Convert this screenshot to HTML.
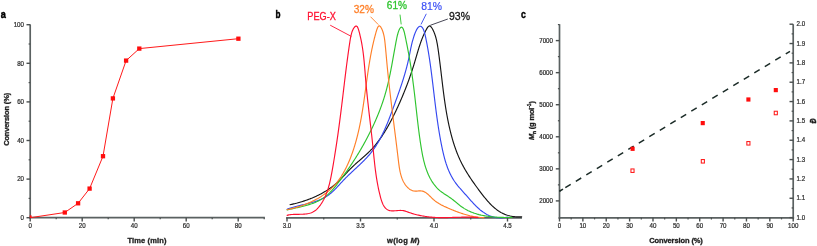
<!DOCTYPE html>
<html><head><meta charset="utf-8"><style>
html,body{margin:0;padding:0;background:#fff;}
body{width:817px;height:246px;overflow:hidden;}
svg{display:block;font-family:"Liberation Sans", Arial, sans-serif;}
</style></head><body>
<svg width="817" height="246" viewBox="0 0 817 246">
<rect width="817" height="246" fill="#fff"/>
<line x1="30.20" y1="24.40" x2="30.20" y2="218.60" stroke="#5a6161" stroke-width="1.7" />
<line x1="29.30" y1="217.70" x2="264.90" y2="217.70" stroke="#5a6161" stroke-width="1.7" />
<line x1="26.50" y1="217.70" x2="30.20" y2="217.70" stroke="#4a4f4f" stroke-width="1.4" />
<text x="24.00" y="219.90" font-size="7.1" text-anchor="end" fill="#2e2e2e" font-weight="normal" textLength="3.43" lengthAdjust="spacingAndGlyphs" stroke="#2e2e2e" stroke-width="0.24">0</text>
<line x1="26.50" y1="179.10" x2="30.20" y2="179.10" stroke="#4a4f4f" stroke-width="1.4" />
<text x="24.00" y="181.30" font-size="7.1" text-anchor="end" fill="#2e2e2e" font-weight="normal" textLength="6.87" lengthAdjust="spacingAndGlyphs" stroke="#2e2e2e" stroke-width="0.24">20</text>
<line x1="26.50" y1="140.50" x2="30.20" y2="140.50" stroke="#4a4f4f" stroke-width="1.4" />
<text x="24.00" y="142.70" font-size="7.1" text-anchor="end" fill="#2e2e2e" font-weight="normal" textLength="6.87" lengthAdjust="spacingAndGlyphs" stroke="#2e2e2e" stroke-width="0.24">40</text>
<line x1="26.50" y1="101.90" x2="30.20" y2="101.90" stroke="#4a4f4f" stroke-width="1.4" />
<text x="24.00" y="104.10" font-size="7.1" text-anchor="end" fill="#2e2e2e" font-weight="normal" textLength="6.87" lengthAdjust="spacingAndGlyphs" stroke="#2e2e2e" stroke-width="0.24">60</text>
<line x1="26.50" y1="63.30" x2="30.20" y2="63.30" stroke="#4a4f4f" stroke-width="1.4" />
<text x="24.00" y="65.50" font-size="7.1" text-anchor="end" fill="#2e2e2e" font-weight="normal" textLength="6.87" lengthAdjust="spacingAndGlyphs" stroke="#2e2e2e" stroke-width="0.24">80</text>
<line x1="26.50" y1="24.70" x2="30.20" y2="24.70" stroke="#4a4f4f" stroke-width="1.4" />
<text x="24.00" y="26.90" font-size="7.1" text-anchor="end" fill="#2e2e2e" font-weight="normal" textLength="10.3" lengthAdjust="spacingAndGlyphs" stroke="#2e2e2e" stroke-width="0.24">100</text>
<line x1="28.60" y1="198.40" x2="30.20" y2="198.40" stroke="#4a4f4f" stroke-width="1.2" />
<line x1="28.60" y1="159.80" x2="30.20" y2="159.80" stroke="#4a4f4f" stroke-width="1.2" />
<line x1="28.60" y1="121.20" x2="30.20" y2="121.20" stroke="#4a4f4f" stroke-width="1.2" />
<line x1="28.60" y1="82.60" x2="30.20" y2="82.60" stroke="#4a4f4f" stroke-width="1.2" />
<line x1="28.60" y1="44.00" x2="30.20" y2="44.00" stroke="#4a4f4f" stroke-width="1.2" />
<line x1="30.20" y1="217.70" x2="30.20" y2="221.40" stroke="#4a4f4f" stroke-width="1.4" />
<text x="30.20" y="228.40" font-size="7.1" text-anchor="middle" fill="#2e2e2e" font-weight="normal" textLength="3.43" lengthAdjust="spacingAndGlyphs" stroke="#2e2e2e" stroke-width="0.24">0</text>
<line x1="82.20" y1="217.70" x2="82.20" y2="221.40" stroke="#4a4f4f" stroke-width="1.4" />
<text x="82.20" y="228.40" font-size="7.1" text-anchor="middle" fill="#2e2e2e" font-weight="normal" textLength="6.87" lengthAdjust="spacingAndGlyphs" stroke="#2e2e2e" stroke-width="0.24">20</text>
<line x1="134.20" y1="217.70" x2="134.20" y2="221.40" stroke="#4a4f4f" stroke-width="1.4" />
<text x="134.20" y="228.40" font-size="7.1" text-anchor="middle" fill="#2e2e2e" font-weight="normal" textLength="6.87" lengthAdjust="spacingAndGlyphs" stroke="#2e2e2e" stroke-width="0.24">40</text>
<line x1="186.20" y1="217.70" x2="186.20" y2="221.40" stroke="#4a4f4f" stroke-width="1.4" />
<text x="186.20" y="228.40" font-size="7.1" text-anchor="middle" fill="#2e2e2e" font-weight="normal" textLength="6.87" lengthAdjust="spacingAndGlyphs" stroke="#2e2e2e" stroke-width="0.24">60</text>
<line x1="238.20" y1="217.70" x2="238.20" y2="221.40" stroke="#4a4f4f" stroke-width="1.4" />
<text x="238.20" y="228.40" font-size="7.1" text-anchor="middle" fill="#2e2e2e" font-weight="normal" textLength="6.87" lengthAdjust="spacingAndGlyphs" stroke="#2e2e2e" stroke-width="0.24">80</text>
<line x1="56.20" y1="217.70" x2="56.20" y2="219.30" stroke="#4a4f4f" stroke-width="1.2" />
<line x1="108.20" y1="217.70" x2="108.20" y2="219.30" stroke="#4a4f4f" stroke-width="1.2" />
<line x1="160.20" y1="217.70" x2="160.20" y2="219.30" stroke="#4a4f4f" stroke-width="1.2" />
<line x1="212.20" y1="217.70" x2="212.20" y2="219.30" stroke="#4a4f4f" stroke-width="1.2" />
<line x1="264.20" y1="217.70" x2="264.20" y2="219.30" stroke="#4a4f4f" stroke-width="1.2" />
<text x="146.90" y="242.80" font-size="7.5" text-anchor="middle" fill="#1e1e1e" font-weight="bold" textLength="39.0" lengthAdjust="spacing" stroke="#1e1e1e" stroke-width="0.32">Time (min)</text>
<text transform="translate(8.5,119.3) rotate(-90)" font-size="7.5" text-anchor="middle" fill="#1e1e1e" stroke="#1e1e1e" stroke-width="0.32" font-weight="bold" textLength="53.1" lengthAdjust="spacing">Conversion (%)</text>
<text x="0.8" y="17.8" font-size="11.4" font-weight="bold" fill="#000" stroke="#000" stroke-width="0.45" textLength="5.1" lengthAdjust="spacingAndGlyphs">a</text>
<polyline points="30.20,217.70 64.80,212.50 78.10,203.30 89.60,188.60 103.00,156.20 112.90,98.40 126.10,60.60 139.30,48.60 238.40,38.70" fill="none" stroke="#ff1a1a" stroke-width="1.0" stroke-linejoin="round" />
<rect x="62.65" y="210.35" width="4.3" height="4.3" fill="#ff0d0d"/>
<rect x="75.95" y="201.15" width="4.3" height="4.3" fill="#ff0d0d"/>
<rect x="87.45" y="186.45" width="4.3" height="4.3" fill="#ff0d0d"/>
<rect x="100.85" y="154.05" width="4.3" height="4.3" fill="#ff0d0d"/>
<rect x="110.75" y="96.25" width="4.3" height="4.3" fill="#ff0d0d"/>
<rect x="123.95" y="58.45" width="4.3" height="4.3" fill="#ff0d0d"/>
<rect x="137.15" y="46.45" width="4.3" height="4.3" fill="#ff0d0d"/>
<rect x="236.25" y="36.55" width="4.3" height="4.3" fill="#ff0d0d"/>
<rect x="29.7" y="215.4" width="1.9" height="2.2" fill="#ff0d0d"/>
<line x1="286.10" y1="217.80" x2="522.00" y2="217.80" stroke="#5a6161" stroke-width="1.7" />
<line x1="287.00" y1="217.80" x2="287.00" y2="221.50" stroke="#4a4f4f" stroke-width="1.4" />
<text x="287.00" y="228.40" font-size="7.1" text-anchor="middle" fill="#2e2e2e" font-weight="normal" textLength="8.59" lengthAdjust="spacingAndGlyphs" stroke="#2e2e2e" stroke-width="0.24">3.0</text>
<line x1="360.50" y1="217.80" x2="360.50" y2="221.50" stroke="#4a4f4f" stroke-width="1.4" />
<text x="360.50" y="228.40" font-size="7.1" text-anchor="middle" fill="#2e2e2e" font-weight="normal" textLength="8.59" lengthAdjust="spacingAndGlyphs" stroke="#2e2e2e" stroke-width="0.24">3.5</text>
<line x1="434.00" y1="217.80" x2="434.00" y2="221.50" stroke="#4a4f4f" stroke-width="1.4" />
<text x="434.00" y="228.40" font-size="7.1" text-anchor="middle" fill="#2e2e2e" font-weight="normal" textLength="8.59" lengthAdjust="spacingAndGlyphs" stroke="#2e2e2e" stroke-width="0.24">4.0</text>
<line x1="507.50" y1="217.80" x2="507.50" y2="221.50" stroke="#4a4f4f" stroke-width="1.4" />
<text x="507.50" y="228.40" font-size="7.1" text-anchor="middle" fill="#2e2e2e" font-weight="normal" textLength="8.59" lengthAdjust="spacingAndGlyphs" stroke="#2e2e2e" stroke-width="0.24">4.5</text>
<line x1="323.75" y1="217.80" x2="323.75" y2="219.40" stroke="#4a4f4f" stroke-width="1.2" />
<line x1="397.25" y1="217.80" x2="397.25" y2="219.40" stroke="#4a4f4f" stroke-width="1.2" />
<line x1="470.75" y1="217.80" x2="470.75" y2="219.40" stroke="#4a4f4f" stroke-width="1.2" />
<text x="403.3" y="242.8" font-size="7.5" text-anchor="middle" fill="#1e1e1e" stroke="#1e1e1e" stroke-width="0.32" font-weight="bold" textLength="32.4" lengthAdjust="spacing">w(log <tspan font-style="italic">M</tspan>)</text>
<text x="275.5" y="17.8" font-size="10.7" font-weight="bold" fill="#000" stroke="#000" stroke-width="0.45" textLength="5.0" lengthAdjust="spacingAndGlyphs">b</text>
<path d="M290.00,204.73 L290.90,204.53 L291.80,204.33 L292.70,204.12 L293.60,203.91 L294.50,203.69 L295.40,203.47 L296.30,203.23 L297.21,203.00 L298.11,202.75 L299.01,202.50 L299.91,202.24 L300.81,201.98 L301.70,201.71 L302.60,201.43 L303.50,201.14 L304.39,200.85 L305.28,200.55 L306.17,200.25 L307.06,199.94 L307.95,199.62 L308.83,199.29 L309.71,198.95 L310.59,198.61 L311.46,198.26 L312.34,197.91 L313.21,197.54 L314.07,197.17 L314.93,196.79 L315.79,196.40 L316.64,196.01 L317.49,195.60 L318.34,195.19 L319.18,194.77 L320.02,194.35 L320.85,193.91 L321.68,193.47 L322.50,193.02 L323.32,192.56 L324.13,192.09 L324.93,191.61 L325.73,191.13 L326.53,190.63 L327.31,190.13 L328.10,189.62 L328.87,189.10 L329.64,188.57 L330.40,188.03 L331.16,187.48 L331.90,186.93 L332.64,186.36 L333.38,185.79 L334.10,185.21 L334.82,184.61 L335.53,184.01 L336.23,183.40 L336.92,182.78 L337.61,182.15 L338.28,181.51 L338.95,180.87 L339.62,180.21 L340.28,179.55 L340.93,178.89 L341.58,178.22 L342.23,177.55 L342.88,176.87 L343.52,176.19 L344.16,175.51 L344.80,174.82 L345.43,174.14 L346.07,173.45 L346.71,172.77 L347.35,172.08 L347.99,171.40 L348.63,170.72 L349.28,170.04 L349.93,169.37 L350.59,168.70 L351.24,168.03 L351.91,167.37 L352.58,166.72 L353.26,166.07 L353.94,165.43 L354.63,164.80 L355.32,164.17 L356.01,163.54 L356.71,162.92 L357.41,162.30 L358.12,161.68 L358.82,161.07 L359.53,160.45 L360.24,159.84 L360.94,159.23 L361.65,158.62 L362.36,158.00 L363.06,157.39 L363.76,156.77 L364.46,156.15 L365.16,155.53 L365.85,154.91 L366.54,154.28 L367.22,153.64 L367.90,153.00 L368.57,152.36 L369.23,151.71 L369.89,151.05 L370.54,150.39 L371.18,149.71 L371.82,149.04 L372.45,148.35 L373.07,147.66 L373.68,146.96 L374.29,146.26 L374.89,145.55 L375.49,144.83 L376.08,144.11 L376.66,143.38 L377.23,142.65 L377.80,141.91 L378.37,141.16 L378.92,140.42 L379.48,139.66 L380.02,138.90 L380.56,138.14 L381.09,137.37 L381.62,136.60 L382.15,135.82 L382.66,135.04 L383.18,134.25 L383.68,133.46 L384.19,132.67 L384.68,131.87 L385.18,131.07 L385.67,130.27 L386.15,129.46 L386.63,128.65 L387.10,127.84 L387.57,127.02 L388.04,126.20 L388.50,125.38 L388.95,124.56 L389.41,123.73 L389.86,122.90 L390.30,122.07 L390.74,121.24 L391.18,120.40 L391.62,119.57 L392.05,118.73 L392.48,117.89 L392.90,117.05 L393.32,116.21 L393.74,115.36 L394.16,114.52 L394.57,113.67 L394.98,112.83 L395.39,111.98 L395.79,111.14 L396.19,110.29 L396.59,109.44 L396.99,108.60 L397.38,107.75 L397.78,106.90 L398.16,106.05 L398.55,105.20 L398.94,104.35 L399.32,103.50 L399.70,102.65 L400.07,101.80 L400.45,100.94 L400.82,100.09 L401.19,99.24 L401.56,98.38 L401.92,97.53 L402.29,96.67 L402.65,95.81 L403.00,94.95 L403.36,94.09 L403.71,93.23 L404.06,92.37 L404.41,91.51 L404.76,90.65 L405.10,89.78 L405.44,88.92 L405.78,88.05 L406.11,87.19 L406.45,86.32 L406.78,85.45 L407.11,84.58 L407.44,83.70 L407.76,82.83 L408.08,81.96 L408.40,81.08 L408.72,80.20 L409.04,79.33 L409.35,78.45 L409.66,77.56 L409.97,76.68 L410.28,75.80 L410.58,74.91 L410.89,74.02 L411.19,73.14 L411.48,72.24 L411.78,71.35 L412.07,70.46 L412.36,69.56 L412.65,68.67 L412.94,67.77 L413.23,66.87 L413.51,65.97 L413.79,65.06 L414.07,64.16 L414.34,63.25 L414.62,62.34 L414.89,61.43 L415.16,60.52 L415.43,59.60 L415.70,58.69 L415.96,57.77 L416.23,56.85 L416.50,55.93 L416.77,55.02 L417.03,54.10 L417.30,53.18 L417.57,52.26 L417.85,51.35 L418.12,50.43 L418.40,49.52 L418.68,48.60 L418.96,47.69 L419.25,46.78 L419.55,45.88 L419.84,44.97 L420.14,44.07 L420.45,43.17 L420.76,42.28 L421.08,41.39 L421.41,40.50 L421.74,39.61 L422.08,38.73 L422.43,37.86 L422.78,36.99 L423.14,36.12 L423.52,35.26 L423.90,34.41 L424.29,33.56 L424.69,32.71 L425.10,31.88 L425.52,31.05 L425.95,30.22 L426.39,29.40 L426.85,28.60 L427.31,27.83 L427.79,27.14 L428.27,26.57 L428.76,26.15 L429.26,25.92 L429.76,25.92 L430.26,26.14 L430.76,26.54 L431.25,27.09 L431.73,27.75 L432.20,28.50 L432.64,29.30 L433.07,30.11 L433.47,30.94 L433.84,31.78 L434.20,32.62 L434.54,33.48 L434.85,34.35 L435.15,35.23 L435.43,36.12 L435.70,37.01 L435.95,37.91 L436.18,38.82 L436.40,39.74 L436.61,40.66 L436.81,41.59 L436.99,42.52 L437.17,43.46 L437.34,44.40 L437.50,45.34 L437.66,46.28 L437.80,47.23 L437.95,48.18 L438.09,49.13 L438.22,50.08 L438.36,51.03 L438.49,51.98 L438.62,52.93 L438.75,53.88 L438.88,54.83 L439.01,55.77 L439.13,56.72 L439.26,57.67 L439.38,58.62 L439.50,59.56 L439.62,60.51 L439.74,61.45 L439.86,62.40 L439.98,63.34 L440.10,64.29 L440.21,65.23 L440.33,66.18 L440.44,67.12 L440.56,68.06 L440.67,69.01 L440.78,69.95 L440.90,70.89 L441.01,71.83 L441.12,72.77 L441.23,73.71 L441.34,74.65 L441.45,75.59 L441.56,76.53 L441.68,77.47 L441.79,78.41 L441.90,79.34 L442.01,80.28 L442.12,81.22 L442.23,82.15 L442.34,83.09 L442.46,84.02 L442.57,84.96 L442.68,85.89 L442.80,86.83 L442.91,87.76 L443.03,88.69 L443.15,89.62 L443.26,90.56 L443.38,91.49 L443.50,92.42 L443.62,93.35 L443.74,94.28 L443.87,95.20 L443.99,96.13 L444.12,97.06 L444.24,97.99 L444.37,98.91 L444.50,99.84 L444.63,100.76 L444.77,101.69 L444.90,102.61 L445.04,103.54 L445.18,104.46 L445.32,105.38 L445.46,106.30 L445.60,107.23 L445.75,108.15 L445.90,109.07 L446.05,109.98 L446.20,110.90 L446.35,111.82 L446.51,112.74 L446.67,113.65 L446.83,114.57 L447.00,115.49 L447.17,116.40 L447.34,117.31 L447.51,118.23 L447.69,119.14 L447.86,120.05 L448.05,120.96 L448.23,121.87 L448.42,122.78 L448.61,123.69 L448.80,124.60 L449.00,125.51 L449.20,126.42 L449.41,127.32 L449.61,128.23 L449.82,129.13 L450.04,130.04 L450.26,130.94 L450.48,131.84 L450.70,132.75 L450.93,133.65 L451.17,134.55 L451.40,135.45 L451.65,136.35 L451.89,137.24 L452.14,138.14 L452.40,139.04 L452.65,139.93 L452.92,140.83 L453.18,141.72 L453.46,142.61 L453.73,143.50 L454.02,144.39 L454.31,145.27 L454.60,146.16 L454.90,147.04 L455.20,147.93 L455.51,148.81 L455.82,149.68 L456.15,150.56 L456.47,151.43 L456.81,152.30 L457.15,153.17 L457.49,154.04 L457.84,154.90 L458.20,155.77 L458.57,156.63 L458.94,157.48 L459.32,158.34 L459.70,159.19 L460.10,160.03 L460.50,160.88 L460.90,161.72 L461.32,162.56 L461.74,163.39 L462.17,164.23 L462.60,165.06 L463.04,165.88 L463.49,166.71 L463.95,167.53 L464.41,168.35 L464.87,169.16 L465.34,169.98 L465.82,170.79 L466.30,171.59 L466.79,172.40 L467.29,173.20 L467.78,174.00 L468.29,174.80 L468.79,175.59 L469.30,176.39 L469.82,177.18 L470.34,177.97 L470.87,178.75 L471.39,179.53 L471.92,180.32 L472.46,181.10 L473.00,181.87 L473.54,182.65 L474.09,183.42 L474.63,184.19 L475.18,184.96 L475.74,185.73 L476.29,186.50 L476.85,187.26 L477.41,188.02 L477.97,188.78 L478.54,189.54 L479.10,190.30 L479.67,191.05 L480.24,191.81 L480.81,192.56 L481.38,193.31 L481.95,194.06 L482.52,194.81 L483.10,195.55 L483.68,196.29 L484.26,197.02 L484.85,197.75 L485.44,198.47 L486.03,199.19 L486.63,199.90 L487.23,200.60 L487.84,201.30 L488.45,201.99 L489.07,202.67 L489.70,203.34 L490.33,204.00 L490.97,204.65 L491.62,205.29 L492.27,205.92 L492.94,206.54 L493.61,207.14 L494.29,207.73 L494.98,208.31 L495.68,208.87 L496.39,209.42 L497.10,209.96 L497.83,210.48 L498.58,210.98 L499.33,211.47 L500.09,211.93 L500.87,212.39 L501.65,212.82 L502.46,213.23 L503.27,213.63 L504.10,214.00 L504.94,214.36 L505.79,214.69 L506.66,215.01 L507.55,215.30 L508.45,215.57 L509.36,215.81 L510.30,216.04 L511.24,216.23 L512.21,216.41 L513.19,216.56 L514.19,216.68 L515.21,216.78 L516.24,216.85 L517.30,216.89 L518.37,216.91 L519.46,216.89 L520.57,216.85 L521.70,216.78" fill="none" stroke="#141414" stroke-width="1.15" stroke-linejoin="round" stroke-linecap="round" />
<path d="M287.20,209.20 L288.02,208.90 L288.85,208.60 L289.69,208.32 L290.55,208.04 L291.42,207.77 L292.29,207.51 L293.18,207.26 L294.07,207.01 L294.97,206.76 L295.88,206.53 L296.80,206.29 L297.72,206.06 L298.65,205.83 L299.58,205.61 L300.52,205.38 L301.46,205.16 L302.41,204.93 L303.35,204.70 L304.30,204.48 L305.25,204.25 L306.20,204.02 L307.15,203.78 L308.10,203.54 L309.05,203.29 L309.99,203.04 L310.93,202.79 L311.87,202.52 L312.81,202.25 L313.74,201.97 L314.66,201.68 L315.58,201.38 L316.49,201.07 L317.40,200.75 L318.29,200.41 L319.18,200.07 L320.06,199.71 L320.93,199.34 L321.79,198.95 L322.64,198.55 L323.47,198.13 L324.29,197.69 L325.11,197.24 L325.90,196.77 L326.68,196.28 L327.45,195.77 L328.21,195.24 L328.95,194.70 L329.68,194.14 L330.39,193.56 L331.10,192.97 L331.79,192.36 L332.48,191.75 L333.16,191.12 L333.83,190.47 L334.49,189.82 L335.15,189.16 L335.81,188.50 L336.45,187.82 L337.10,187.14 L337.74,186.45 L338.38,185.76 L339.02,185.07 L339.66,184.37 L340.30,183.67 L340.94,182.97 L341.59,182.28 L342.23,181.58 L342.88,180.88 L343.54,180.19 L344.20,179.50 L344.86,178.82 L345.53,178.14 L346.21,177.46 L346.89,176.79 L347.57,176.12 L348.26,175.45 L348.95,174.79 L349.64,174.13 L350.34,173.47 L351.04,172.81 L351.73,172.16 L352.44,171.50 L353.14,170.85 L353.84,170.20 L354.54,169.54 L355.24,168.89 L355.95,168.24 L356.65,167.59 L357.35,166.93 L358.04,166.28 L358.74,165.63 L359.43,164.97 L360.12,164.31 L360.81,163.65 L361.49,162.99 L362.17,162.33 L362.85,161.66 L363.52,160.99 L364.19,160.32 L364.85,159.64 L365.50,158.96 L366.15,158.28 L366.79,157.59 L367.43,156.90 L368.05,156.20 L368.67,155.50 L369.29,154.79 L369.89,154.08 L370.48,153.36 L371.07,152.63 L371.65,151.90 L372.21,151.17 L372.77,150.42 L373.32,149.67 L373.86,148.92 L374.39,148.16 L374.92,147.39 L375.44,146.62 L375.94,145.85 L376.45,145.07 L376.94,144.28 L377.43,143.49 L377.91,142.69 L378.38,141.89 L378.84,141.09 L379.30,140.28 L379.75,139.47 L380.20,138.65 L380.64,137.83 L381.07,137.00 L381.50,136.17 L381.92,135.34 L382.34,134.50 L382.75,133.66 L383.15,132.82 L383.56,131.97 L383.95,131.12 L384.34,130.27 L384.73,129.42 L385.11,128.56 L385.49,127.70 L385.86,126.83 L386.23,125.97 L386.60,125.10 L386.96,124.23 L387.32,123.35 L387.68,122.48 L388.03,121.60 L388.38,120.72 L388.73,119.84 L389.07,118.96 L389.42,118.08 L389.76,117.19 L390.09,116.31 L390.43,115.42 L390.77,114.53 L391.10,113.64 L391.43,112.76 L391.76,111.87 L392.09,110.97 L392.42,110.08 L392.75,109.19 L393.07,108.30 L393.40,107.41 L393.73,106.52 L394.05,105.63 L394.38,104.73 L394.70,103.84 L395.03,102.95 L395.35,102.06 L395.68,101.17 L396.00,100.28 L396.32,99.39 L396.65,98.49 L396.97,97.60 L397.29,96.71 L397.61,95.82 L397.92,94.93 L398.24,94.03 L398.55,93.14 L398.87,92.25 L399.18,91.36 L399.49,90.46 L399.80,89.57 L400.11,88.68 L400.41,87.78 L400.71,86.89 L401.02,85.99 L401.31,85.10 L401.61,84.20 L401.91,83.31 L402.20,82.41 L402.49,81.51 L402.77,80.62 L403.06,79.72 L403.34,78.82 L403.62,77.92 L403.90,77.02 L404.17,76.12 L404.44,75.22 L404.71,74.32 L404.97,73.41 L405.23,72.51 L405.49,71.61 L405.74,70.70 L405.99,69.80 L406.24,68.89 L406.48,67.98 L406.72,67.08 L406.95,66.17 L407.18,65.26 L407.41,64.35 L407.63,63.44 L407.85,62.52 L408.06,61.61 L408.27,60.70 L408.48,59.78 L408.68,58.87 L408.87,57.95 L409.06,57.03 L409.25,56.11 L409.44,55.19 L409.62,54.26 L409.80,53.34 L409.98,52.41 L410.17,51.48 L410.35,50.55 L410.54,49.61 L410.73,48.67 L410.93,47.73 L411.13,46.78 L411.34,45.83 L411.56,44.88 L411.78,43.92 L412.02,42.95 L412.27,41.98 L412.52,41.01 L412.79,40.03 L413.08,39.04 L413.38,38.05 L413.69,37.05 L414.02,36.05 L414.36,35.05 L414.72,34.06 L415.09,33.09 L415.48,32.14 L415.88,31.24 L416.28,30.38 L416.70,29.57 L417.13,28.84 L417.56,28.17 L418.01,27.59 L418.46,27.10 L418.91,26.70 L419.37,26.42 L419.83,26.26 L420.30,26.23 L420.76,26.32 L421.22,26.54 L421.68,26.88 L422.12,27.33 L422.54,27.88 L422.94,28.53 L423.31,29.26 L423.66,30.08 L423.99,30.96 L424.30,31.90 L424.59,32.89 L424.86,33.91 L425.12,34.96 L425.36,36.04 L425.60,37.11 L425.82,38.19 L426.04,39.26 L426.25,40.31 L426.46,41.34 L426.66,42.36 L426.85,43.37 L427.04,44.36 L427.22,45.34 L427.40,46.31 L427.58,47.28 L427.75,48.23 L427.91,49.17 L428.07,50.11 L428.23,51.04 L428.39,51.97 L428.54,52.89 L428.69,53.81 L428.84,54.73 L428.98,55.65 L429.13,56.56 L429.27,57.48 L429.41,58.39 L429.55,59.31 L429.68,60.23 L429.82,61.15 L429.95,62.06 L430.08,62.99 L430.22,63.91 L430.35,64.83 L430.47,65.75 L430.60,66.68 L430.73,67.60 L430.85,68.53 L430.98,69.45 L431.10,70.38 L431.22,71.31 L431.34,72.24 L431.46,73.17 L431.58,74.10 L431.70,75.03 L431.82,75.96 L431.93,76.89 L432.05,77.82 L432.17,78.76 L432.28,79.69 L432.39,80.63 L432.51,81.56 L432.62,82.50 L432.74,83.43 L432.85,84.37 L432.96,85.30 L433.07,86.24 L433.19,87.18 L433.30,88.12 L433.41,89.06 L433.52,90.00 L433.63,90.93 L433.74,91.87 L433.86,92.81 L433.97,93.75 L434.08,94.69 L434.19,95.63 L434.30,96.58 L434.42,97.52 L434.53,98.46 L434.64,99.40 L434.76,100.34 L434.87,101.28 L434.99,102.23 L435.10,103.17 L435.22,104.11 L435.33,105.05 L435.45,105.99 L435.57,106.94 L435.69,107.88 L435.81,108.82 L435.93,109.76 L436.05,110.71 L436.17,111.65 L436.29,112.59 L436.42,113.53 L436.54,114.48 L436.67,115.42 L436.80,116.36 L436.93,117.30 L437.06,118.24 L437.19,119.18 L437.32,120.13 L437.45,121.07 L437.59,122.01 L437.73,122.95 L437.86,123.89 L438.00,124.83 L438.15,125.77 L438.29,126.71 L438.43,127.65 L438.58,128.58 L438.73,129.52 L438.88,130.46 L439.03,131.40 L439.19,132.33 L439.34,133.27 L439.50,134.21 L439.66,135.14 L439.83,136.08 L439.99,137.01 L440.16,137.94 L440.33,138.88 L440.50,139.81 L440.67,140.74 L440.85,141.67 L441.03,142.60 L441.21,143.53 L441.39,144.46 L441.58,145.39 L441.77,146.32 L441.96,147.25 L442.15,148.17 L442.35,149.10 L442.55,150.02 L442.75,150.95 L442.96,151.87 L443.17,152.79 L443.39,153.71 L443.61,154.63 L443.83,155.54 L444.06,156.46 L444.30,157.37 L444.54,158.28 L444.79,159.18 L445.04,160.08 L445.30,160.98 L445.57,161.88 L445.85,162.78 L446.13,163.67 L446.43,164.55 L446.73,165.43 L447.04,166.31 L447.36,167.19 L447.68,168.06 L448.02,168.92 L448.37,169.78 L448.73,170.64 L449.10,171.49 L449.48,172.34 L449.87,173.18 L450.27,174.01 L450.69,174.84 L451.12,175.67 L451.56,176.49 L452.01,177.30 L452.47,178.10 L452.95,178.90 L453.45,179.69 L453.95,180.48 L454.48,181.26 L455.01,182.03 L455.56,182.79 L456.13,183.55 L456.70,184.30 L457.29,185.05 L457.88,185.80 L458.49,186.53 L459.10,187.27 L459.72,188.00 L460.35,188.73 L460.98,189.46 L461.62,190.18 L462.26,190.90 L462.90,191.62 L463.55,192.35 L464.19,193.07 L464.84,193.79 L465.49,194.51 L466.13,195.23 L466.78,195.96 L467.42,196.68 L468.06,197.41 L468.70,198.13 L469.33,198.85 L469.97,199.58 L470.61,200.29 L471.25,201.01 L471.89,201.72 L472.54,202.42 L473.18,203.12 L473.83,203.81 L474.48,204.50 L475.14,205.17 L475.80,205.84 L476.46,206.50 L477.13,207.14 L477.81,207.78 L478.49,208.40 L479.18,209.01 L479.87,209.61 L480.57,210.19 L481.28,210.75 L482.00,211.31 L482.73,211.84 L483.47,212.36 L484.22,212.85 L484.97,213.33 L485.74,213.79 L486.52,214.23 L487.31,214.65 L488.12,215.05 L488.93,215.42 L489.76,215.77 L490.60,216.09 L491.46,216.39 L492.33,216.67 L493.22,216.92 L494.12,217.14 L495.04,217.33 L495.98,217.49 L496.93,217.62 L497.90,217.73 L498.88,217.80 L499.89,217.84 L500.91,217.84 L501.96,217.82 L503.02,217.76 L504.10,217.66 L505.21,217.53 L506.33,217.36 L507.48,217.16" fill="none" stroke="#3448f0" stroke-width="1.15" stroke-linejoin="round" stroke-linecap="round" />
<path d="M287.12,209.90 L288.04,209.69 L288.96,209.47 L289.88,209.26 L290.81,209.05 L291.75,208.85 L292.69,208.64 L293.64,208.43 L294.59,208.23 L295.54,208.02 L296.49,207.81 L297.45,207.60 L298.41,207.39 L299.37,207.17 L300.32,206.95 L301.28,206.72 L302.24,206.49 L303.20,206.25 L304.15,206.01 L305.11,205.76 L306.06,205.50 L307.01,205.23 L307.95,204.96 L308.89,204.67 L309.82,204.38 L310.75,204.07 L311.68,203.76 L312.59,203.43 L313.50,203.09 L314.41,202.74 L315.30,202.37 L316.19,201.99 L317.07,201.59 L317.93,201.18 L318.79,200.75 L319.64,200.31 L320.48,199.85 L321.30,199.37 L322.12,198.87 L322.92,198.36 L323.71,197.82 L324.48,197.27 L325.25,196.69 L325.99,196.10 L326.73,195.48 L327.46,194.86 L328.17,194.21 L328.87,193.55 L329.57,192.88 L330.25,192.19 L330.92,191.49 L331.59,190.78 L332.24,190.06 L332.89,189.33 L333.53,188.59 L334.16,187.84 L334.79,187.08 L335.41,186.32 L336.03,185.56 L336.64,184.79 L337.24,184.01 L337.84,183.24 L338.44,182.46 L339.04,181.68 L339.63,180.91 L340.22,180.13 L340.80,179.35 L341.39,178.57 L341.96,177.79 L342.54,177.01 L343.12,176.23 L343.69,175.45 L344.26,174.66 L344.82,173.88 L345.38,173.10 L345.94,172.31 L346.50,171.52 L347.06,170.74 L347.61,169.95 L348.16,169.16 L348.70,168.36 L349.25,167.57 L349.79,166.78 L350.33,165.98 L350.86,165.18 L351.40,164.39 L351.93,163.59 L352.46,162.78 L352.98,161.98 L353.51,161.17 L354.03,160.37 L354.55,159.56 L355.07,158.75 L355.58,157.93 L356.09,157.12 L356.60,156.30 L357.11,155.48 L357.62,154.66 L358.12,153.83 L358.62,153.01 L359.12,152.18 L359.62,151.35 L360.11,150.51 L360.60,149.68 L361.09,148.84 L361.58,148.00 L362.07,147.15 L362.55,146.31 L363.03,145.46 L363.51,144.61 L363.99,143.75 L364.46,142.90 L364.93,142.04 L365.40,141.18 L365.87,140.32 L366.33,139.46 L366.79,138.59 L367.25,137.72 L367.70,136.85 L368.15,135.98 L368.60,135.11 L369.05,134.23 L369.49,133.36 L369.93,132.48 L370.37,131.60 L370.80,130.72 L371.24,129.84 L371.66,128.95 L372.09,128.07 L372.51,127.18 L372.93,126.29 L373.34,125.40 L373.75,124.51 L374.16,123.62 L374.56,122.72 L374.96,121.83 L375.36,120.93 L375.75,120.04 L376.14,119.14 L376.52,118.24 L376.90,117.34 L377.28,116.44 L377.65,115.54 L378.02,114.64 L378.39,113.73 L378.75,112.83 L379.11,111.93 L379.46,111.02 L379.81,110.12 L380.15,109.21 L380.49,108.30 L380.83,107.40 L381.16,106.49 L381.49,105.58 L381.81,104.67 L382.13,103.77 L382.44,102.86 L382.75,101.95 L383.06,101.04 L383.35,100.13 L383.65,99.22 L383.94,98.32 L384.22,97.41 L384.50,96.50 L384.78,95.59 L385.05,94.68 L385.31,93.77 L385.57,92.87 L385.83,91.96 L386.08,91.05 L386.33,90.14 L386.57,89.23 L386.81,88.32 L387.04,87.41 L387.27,86.50 L387.50,85.59 L387.72,84.68 L387.94,83.76 L388.16,82.85 L388.37,81.93 L388.58,81.01 L388.79,80.09 L388.99,79.17 L389.19,78.25 L389.39,77.32 L389.59,76.39 L389.78,75.47 L389.98,74.53 L390.17,73.60 L390.35,72.66 L390.54,71.72 L390.73,70.78 L390.91,69.83 L391.09,68.88 L391.28,67.93 L391.46,66.98 L391.64,66.02 L391.81,65.05 L391.99,64.09 L392.17,63.12 L392.35,62.14 L392.53,61.17 L392.71,60.18 L392.88,59.20 L393.06,58.21 L393.24,57.21 L393.42,56.21 L393.60,55.21 L393.78,54.20 L393.96,53.18 L394.14,52.16 L394.33,51.14 L394.51,50.10 L394.70,49.07 L394.89,48.03 L395.08,46.98 L395.27,45.93 L395.46,44.87 L395.66,43.80 L395.86,42.73 L396.06,41.66 L396.27,40.59 L396.48,39.53 L396.69,38.49 L396.91,37.46 L397.14,36.45 L397.37,35.47 L397.61,34.51 L397.86,33.60 L398.11,32.72 L398.38,31.88 L398.65,31.09 L398.94,30.35 L399.23,29.67 L399.54,29.05 L399.86,28.50 L400.19,28.02 L400.52,27.64 L400.86,27.36 L401.20,27.20 L401.54,27.17 L401.88,27.26 L402.21,27.48 L402.53,27.83 L402.85,28.29 L403.16,28.88 L403.45,29.57 L403.74,30.37 L404.01,31.25 L404.27,32.20 L404.53,33.21 L404.77,34.26 L405.01,35.35 L405.25,36.45 L405.47,37.56 L405.70,38.67 L405.92,39.76 L406.13,40.83 L406.34,41.88 L406.55,42.92 L406.76,43.95 L406.96,44.96 L407.15,45.96 L407.35,46.95 L407.54,47.94 L407.73,48.91 L407.91,49.87 L408.10,50.83 L408.28,51.79 L408.45,52.73 L408.63,53.68 L408.80,54.62 L408.97,55.56 L409.14,56.51 L409.31,57.45 L409.47,58.39 L409.64,59.34 L409.80,60.28 L409.96,61.23 L410.11,62.18 L410.27,63.13 L410.43,64.08 L410.58,65.04 L410.73,65.99 L410.88,66.95 L411.03,67.90 L411.17,68.86 L411.32,69.82 L411.46,70.78 L411.60,71.74 L411.74,72.70 L411.88,73.66 L412.02,74.62 L412.15,75.58 L412.29,76.54 L412.42,77.51 L412.55,78.47 L412.69,79.44 L412.81,80.40 L412.94,81.37 L413.07,82.33 L413.20,83.30 L413.32,84.26 L413.44,85.23 L413.57,86.20 L413.69,87.16 L413.81,88.13 L413.93,89.09 L414.05,90.06 L414.16,91.03 L414.28,91.99 L414.40,92.96 L414.51,93.93 L414.62,94.89 L414.74,95.86 L414.85,96.82 L414.96,97.78 L415.07,98.75 L415.18,99.71 L415.29,100.68 L415.40,101.64 L415.51,102.60 L415.62,103.57 L415.73,104.53 L415.84,105.49 L415.94,106.45 L416.05,107.42 L416.16,108.38 L416.27,109.34 L416.37,110.30 L416.48,111.26 L416.59,112.22 L416.70,113.18 L416.80,114.15 L416.91,115.11 L417.02,116.07 L417.13,117.03 L417.24,117.99 L417.35,118.95 L417.46,119.91 L417.58,120.87 L417.69,121.83 L417.80,122.80 L417.92,123.76 L418.03,124.72 L418.15,125.68 L418.27,126.64 L418.38,127.60 L418.50,128.56 L418.63,129.53 L418.75,130.49 L418.87,131.45 L419.00,132.41 L419.12,133.37 L419.25,134.34 L419.38,135.30 L419.51,136.26 L419.64,137.23 L419.78,138.19 L419.92,139.15 L420.05,140.12 L420.19,141.08 L420.34,142.05 L420.48,143.01 L420.63,143.98 L420.78,144.94 L420.93,145.91 L421.08,146.88 L421.24,147.84 L421.40,148.81 L421.56,149.78 L421.73,150.74 L421.90,151.71 L422.07,152.67 L422.25,153.64 L422.44,154.60 L422.63,155.56 L422.82,156.52 L423.03,157.48 L423.24,158.43 L423.45,159.39 L423.68,160.34 L423.91,161.28 L424.15,162.23 L424.40,163.17 L424.65,164.11 L424.92,165.04 L425.20,165.97 L425.48,166.90 L425.78,167.83 L426.09,168.74 L426.41,169.66 L426.74,170.57 L427.08,171.47 L427.43,172.37 L427.80,173.27 L428.18,174.15 L428.57,175.04 L428.98,175.91 L429.40,176.78 L429.83,177.64 L430.28,178.50 L430.75,179.34 L431.23,180.18 L431.72,181.01 L432.23,181.82 L432.76,182.63 L433.30,183.42 L433.86,184.20 L434.44,184.96 L435.04,185.71 L435.65,186.45 L436.28,187.16 L436.93,187.87 L437.60,188.55 L438.29,189.22 L438.99,189.87 L439.72,190.50 L440.46,191.11 L441.23,191.70 L442.01,192.28 L442.80,192.84 L443.60,193.40 L444.41,193.94 L445.23,194.48 L446.05,195.02 L446.87,195.56 L447.70,196.09 L448.52,196.64 L449.34,197.18 L450.15,197.74 L450.95,198.30 L451.74,198.88 L452.52,199.48 L453.30,200.08 L454.06,200.69 L454.82,201.31 L455.57,201.93 L456.32,202.55 L457.06,203.17 L457.81,203.79 L458.56,204.41 L459.32,205.02 L460.07,205.61 L460.84,206.20 L461.61,206.77 L462.40,207.32 L463.19,207.85 L464.00,208.37 L464.82,208.87 L465.64,209.35 L466.48,209.81 L467.33,210.25 L468.18,210.68 L469.05,211.09 L469.93,211.49 L470.81,211.87 L471.70,212.23 L472.60,212.58 L473.51,212.91 L474.42,213.23 L475.34,213.53 L476.27,213.82 L477.20,214.10 L478.14,214.36 L479.08,214.61 L480.03,214.84 L480.98,215.07 L481.94,215.28 L482.91,215.48 L483.87,215.66 L484.84,215.84 L485.81,216.00 L486.79,216.16 L487.76,216.30 L488.74,216.43 L489.73,216.56 L490.71,216.67 L491.69,216.78 L492.67,216.87 L493.66,216.96 L494.64,217.04 L495.63,217.11 L496.61,217.17 L497.59,217.23 L498.57,217.28 L499.55,217.32 L500.53,217.36 L501.50,217.39 L502.48,217.41 L503.44,217.43 L504.41,217.45 L505.37,217.46 L506.33,217.46 L507.28,217.46 L508.23,217.46 L509.17,217.45 L510.11,217.44 L511.05,217.43 L511.97,217.41" fill="none" stroke="#2ec42e" stroke-width="1.15" stroke-linejoin="round" stroke-linecap="round" />
<path d="M287.07,209.69 L287.98,209.50 L288.90,209.30 L289.81,209.09 L290.73,208.88 L291.64,208.65 L292.56,208.42 L293.48,208.18 L294.39,207.94 L295.31,207.68 L296.23,207.42 L297.14,207.15 L298.05,206.87 L298.97,206.59 L299.88,206.29 L300.79,205.99 L301.70,205.68 L302.60,205.36 L303.51,205.04 L304.41,204.70 L305.30,204.36 L306.20,204.01 L307.09,203.65 L307.98,203.28 L308.86,202.90 L309.74,202.51 L310.62,202.12 L311.49,201.71 L312.36,201.30 L313.22,200.88 L314.08,200.45 L314.93,200.01 L315.78,199.56 L316.62,199.10 L317.46,198.64 L318.28,198.16 L319.11,197.68 L319.92,197.18 L320.73,196.68 L321.53,196.16 L322.33,195.64 L323.11,195.11 L323.89,194.57 L324.67,194.01 L325.43,193.45 L326.18,192.88 L326.93,192.30 L327.67,191.71 L328.39,191.11 L329.11,190.50 L329.82,189.88 L330.52,189.25 L331.21,188.60 L331.89,187.95 L332.56,187.29 L333.21,186.62 L333.86,185.94 L334.50,185.25 L335.12,184.54 L335.74,183.83 L336.34,183.11 L336.93,182.38 L337.52,181.64 L338.09,180.89 L338.66,180.13 L339.21,179.37 L339.75,178.60 L340.29,177.82 L340.82,177.03 L341.33,176.23 L341.84,175.43 L342.34,174.62 L342.83,173.80 L343.31,172.98 L343.78,172.15 L344.25,171.32 L344.71,170.48 L345.15,169.63 L345.60,168.78 L346.03,167.93 L346.45,167.07 L346.87,166.20 L347.28,165.33 L347.69,164.46 L348.08,163.59 L348.47,162.71 L348.85,161.82 L349.23,160.94 L349.60,160.05 L349.96,159.16 L350.32,158.26 L350.67,157.37 L351.01,156.47 L351.35,155.57 L351.68,154.67 L352.01,153.77 L352.33,152.86 L352.65,151.96 L352.96,151.05 L353.27,150.15 L353.57,149.24 L353.86,148.33 L354.15,147.42 L354.44,146.51 L354.72,145.60 L354.99,144.69 L355.26,143.77 L355.53,142.86 L355.79,141.94 L356.05,141.02 L356.30,140.11 L356.55,139.19 L356.79,138.27 L357.03,137.35 L357.27,136.42 L357.50,135.50 L357.73,134.58 L357.95,133.65 L358.17,132.73 L358.39,131.80 L358.60,130.88 L358.81,129.95 L359.02,129.02 L359.22,128.09 L359.42,127.16 L359.61,126.23 L359.81,125.30 L360.00,124.37 L360.18,123.44 L360.37,122.50 L360.55,121.57 L360.72,120.63 L360.90,119.70 L361.07,118.76 L361.24,117.83 L361.41,116.89 L361.57,115.95 L361.74,115.01 L361.90,114.08 L362.05,113.14 L362.21,112.20 L362.36,111.26 L362.52,110.32 L362.67,109.38 L362.82,108.43 L362.96,107.49 L363.11,106.55 L363.25,105.61 L363.39,104.67 L363.53,103.72 L363.67,102.78 L363.81,101.83 L363.95,100.89 L364.08,99.95 L364.22,99.00 L364.35,98.06 L364.49,97.11 L364.62,96.17 L364.75,95.22 L364.88,94.27 L365.01,93.33 L365.14,92.38 L365.27,91.43 L365.40,90.49 L365.53,89.54 L365.66,88.60 L365.79,87.65 L365.92,86.70 L366.05,85.75 L366.17,84.81 L366.30,83.86 L366.43,82.91 L366.56,81.97 L366.69,81.02 L366.83,80.07 L366.96,79.13 L367.09,78.18 L367.22,77.23 L367.36,76.29 L367.49,75.34 L367.63,74.39 L367.76,73.45 L367.90,72.50 L368.04,71.55 L368.18,70.61 L368.32,69.66 L368.47,68.72 L368.61,67.77 L368.76,66.83 L368.91,65.88 L369.06,64.94 L369.21,64.00 L369.37,63.05 L369.52,62.11 L369.68,61.17 L369.84,60.22 L370.00,59.28 L370.17,58.34 L370.34,57.40 L370.51,56.46 L370.68,55.52 L370.85,54.58 L371.03,53.64 L371.21,52.70 L371.40,51.76 L371.58,50.82 L371.77,49.89 L371.96,48.95 L372.16,48.01 L372.36,47.08 L372.56,46.14 L372.77,45.21 L372.98,44.27 L373.19,43.34 L373.41,42.41 L373.63,41.48 L373.85,40.55 L374.08,39.62 L374.31,38.69 L374.55,37.76 L374.79,36.83 L375.03,35.90 L375.28,34.98 L375.53,34.05 L375.79,33.13 L376.05,32.20 L376.32,31.28 L376.59,30.38 L376.87,29.51 L377.16,28.69 L377.46,27.94 L377.77,27.28 L378.10,26.73 L378.44,26.30 L378.79,26.00 L379.17,25.87 L379.56,25.91 L379.97,26.14 L380.40,26.57 L380.85,27.18 L381.29,27.93 L381.73,28.79 L382.15,29.73 L382.55,30.71 L382.90,31.72 L383.22,32.75 L383.51,33.78 L383.77,34.83 L384.00,35.88 L384.20,36.93 L384.39,37.99 L384.55,39.06 L384.70,40.12 L384.83,41.17 L384.95,42.23 L385.06,43.28 L385.17,44.32 L385.27,45.34 L385.37,46.36 L385.47,47.37 L385.57,48.37 L385.66,49.36 L385.75,50.35 L385.84,51.33 L385.93,52.30 L386.02,53.26 L386.10,54.22 L386.19,55.17 L386.27,56.12 L386.36,57.07 L386.44,58.01 L386.53,58.95 L386.61,59.89 L386.70,60.82 L386.78,61.76 L386.87,62.70 L386.95,63.63 L387.04,64.57 L387.13,65.50 L387.22,66.44 L387.31,67.37 L387.40,68.31 L387.50,69.24 L387.59,70.18 L387.68,71.11 L387.78,72.05 L387.87,72.98 L387.97,73.92 L388.07,74.85 L388.16,75.78 L388.26,76.72 L388.36,77.65 L388.46,78.59 L388.56,79.52 L388.66,80.46 L388.76,81.39 L388.87,82.33 L388.97,83.26 L389.07,84.20 L389.18,85.13 L389.28,86.07 L389.39,87.00 L389.49,87.94 L389.60,88.87 L389.71,89.81 L389.82,90.74 L389.92,91.68 L390.03,92.62 L390.14,93.55 L390.25,94.49 L390.36,95.43 L390.47,96.36 L390.58,97.30 L390.70,98.24 L390.81,99.17 L390.92,100.11 L391.03,101.05 L391.15,101.99 L391.26,102.93 L391.37,103.86 L391.49,104.80 L391.60,105.74 L391.72,106.68 L391.83,107.62 L391.95,108.56 L392.07,109.50 L392.18,110.44 L392.30,111.38 L392.42,112.33 L392.53,113.27 L392.65,114.21 L392.77,115.15 L392.89,116.10 L393.00,117.04 L393.12,117.98 L393.24,118.93 L393.36,119.87 L393.48,120.82 L393.60,121.76 L393.72,122.71 L393.84,123.66 L393.95,124.60 L394.07,125.55 L394.19,126.50 L394.31,127.45 L394.43,128.40 L394.55,129.35 L394.67,130.30 L394.79,131.25 L394.91,132.20 L395.03,133.15 L395.15,134.10 L395.27,135.05 L395.39,136.01 L395.51,136.96 L395.63,137.92 L395.75,138.87 L395.87,139.83 L395.99,140.79 L396.11,141.74 L396.23,142.70 L396.35,143.66 L396.47,144.62 L396.58,145.58 L396.70,146.54 L396.82,147.50 L396.94,148.46 L397.06,149.42 L397.18,150.39 L397.29,151.35 L397.41,152.32 L397.53,153.28 L397.64,154.25 L397.76,155.22 L397.88,156.19 L397.99,157.15 L398.11,158.12 L398.23,159.09 L398.34,160.07 L398.46,161.04 L398.57,162.01 L398.69,162.98 L398.82,163.95 L398.95,164.91 L399.08,165.88 L399.22,166.84 L399.37,167.79 L399.53,168.74 L399.69,169.69 L399.87,170.63 L400.06,171.56 L400.26,172.49 L400.48,173.41 L400.71,174.31 L400.96,175.21 L401.22,176.10 L401.51,176.98 L401.81,177.85 L402.13,178.71 L402.47,179.55 L402.84,180.38 L403.23,181.20 L403.64,182.00 L404.08,182.79 L404.55,183.56 L405.04,184.32 L405.56,185.06 L406.11,185.77 L406.69,186.47 L407.30,187.14 L407.94,187.77 L408.61,188.37 L409.30,188.92 L410.03,189.42 L410.79,189.87 L411.58,190.26 L412.39,190.58 L413.24,190.84 L414.11,191.02 L415.02,191.12 L415.95,191.14 L416.91,191.09 L417.88,191.02 L418.84,190.94 L419.80,190.89 L420.73,190.89 L421.64,190.97 L422.51,191.14 L423.35,191.39 L424.16,191.73 L424.95,192.13 L425.71,192.59 L426.46,193.11 L427.19,193.68 L427.90,194.28 L428.61,194.92 L429.31,195.58 L430.00,196.26 L430.70,196.95 L431.40,197.64 L432.10,198.33 L432.81,199.00 L433.53,199.66 L434.26,200.28 L435.01,200.89 L435.77,201.46 L436.55,202.02 L437.33,202.55 L438.13,203.06 L438.94,203.56 L439.75,204.03 L440.58,204.49 L441.41,204.94 L442.25,205.37 L443.10,205.79 L443.95,206.21 L444.81,206.61 L445.67,207.00 L446.54,207.39 L447.41,207.78 L448.28,208.16 L449.15,208.54 L450.03,208.91 L450.91,209.29 L451.79,209.66 L452.68,210.02 L453.56,210.38 L454.45,210.74 L455.34,211.09 L456.23,211.43 L457.13,211.77 L458.03,212.11 L458.93,212.43 L459.83,212.75 L460.73,213.07 L461.64,213.37 L462.54,213.67 L463.45,213.96 L464.37,214.25 L465.28,214.52 L466.20,214.78 L467.12,215.04 L468.04,215.29 L468.96,215.52 L469.88,215.75 L470.81,215.96 L471.74,216.17 L472.67,216.36 L473.60,216.54 L474.53,216.71 L475.47,216.87 L476.41,217.01 L477.35,217.14 L478.29,217.26 L479.24,217.37 L480.18,217.46 L481.13,217.53 L482.08,217.59 L483.03,217.64 L483.98,217.67" fill="none" stroke="#ff7f27" stroke-width="1.15" stroke-linejoin="round" stroke-linecap="round" />
<path d="M287.15,215.34 L287.97,215.11 L288.84,214.91 L289.74,214.75 L290.68,214.62 L291.64,214.52 L292.63,214.45 L293.65,214.40 L294.68,214.37 L295.74,214.34 L296.81,214.33 L297.89,214.32 L298.97,214.31 L300.06,214.29 L301.16,214.27 L302.25,214.24 L303.34,214.19 L304.42,214.11 L305.49,214.02 L306.54,213.89 L307.58,213.73 L308.60,213.54 L309.60,213.30 L310.56,213.02 L311.50,212.68 L312.41,212.30 L313.28,211.85 L314.12,211.35 L314.92,210.81 L315.69,210.21 L316.44,209.58 L317.15,208.90 L317.83,208.20 L318.49,207.46 L319.13,206.70 L319.74,205.91 L320.33,205.11 L320.89,204.29 L321.44,203.46 L321.97,202.63 L322.48,201.78 L322.97,200.92 L323.45,200.06 L323.91,199.19 L324.35,198.31 L324.77,197.42 L325.18,196.52 L325.58,195.62 L325.96,194.70 L326.33,193.79 L326.68,192.86 L327.02,191.93 L327.35,190.99 L327.66,190.05 L327.97,189.10 L328.26,188.14 L328.54,187.19 L328.81,186.22 L329.08,185.25 L329.33,184.28 L329.58,183.30 L329.81,182.32 L330.04,181.33 L330.27,180.35 L330.48,179.35 L330.69,178.36 L330.90,177.36 L331.10,176.36 L331.29,175.36 L331.48,174.36 L331.67,173.36 L331.86,172.35 L332.04,171.35 L332.22,170.34 L332.40,169.33 L332.57,168.32 L332.75,167.32 L332.92,166.31 L333.10,165.30 L333.27,164.29 L333.44,163.28 L333.61,162.27 L333.78,161.27 L333.95,160.26 L334.12,159.25 L334.28,158.24 L334.45,157.23 L334.61,156.22 L334.77,155.21 L334.93,154.20 L335.09,153.20 L335.25,152.19 L335.41,151.18 L335.57,150.17 L335.72,149.16 L335.88,148.15 L336.03,147.15 L336.19,146.14 L336.34,145.13 L336.49,144.12 L336.64,143.12 L336.79,142.11 L336.94,141.11 L337.08,140.10 L337.23,139.09 L337.38,138.09 L337.52,137.08 L337.67,136.08 L337.81,135.08 L337.95,134.07 L338.09,133.07 L338.23,132.07 L338.37,131.06 L338.51,130.06 L338.65,129.06 L338.78,128.06 L338.92,127.06 L339.06,126.06 L339.19,125.06 L339.32,124.07 L339.46,123.07 L339.59,122.07 L339.72,121.08 L339.85,120.08 L339.98,119.09 L340.11,118.09 L340.24,117.10 L340.37,116.11 L340.49,115.12 L340.62,114.13 L340.75,113.14 L340.87,112.15 L341.00,111.16 L341.12,110.17 L341.24,109.19 L341.37,108.20 L341.49,107.22 L341.61,106.24 L341.73,105.25 L341.85,104.27 L341.97,103.29 L342.09,102.31 L342.21,101.34 L342.33,100.36 L342.44,99.38 L342.56,98.40 L342.68,97.43 L342.80,96.45 L342.91,95.48 L343.03,94.50 L343.15,93.52 L343.26,92.55 L343.38,91.57 L343.49,90.59 L343.61,89.62 L343.73,88.64 L343.84,87.66 L343.96,86.68 L344.08,85.70 L344.20,84.72 L344.31,83.74 L344.43,82.76 L344.55,81.77 L344.67,80.79 L344.79,79.80 L344.91,78.81 L345.03,77.82 L345.15,76.83 L345.27,75.84 L345.39,74.84 L345.52,73.85 L345.64,72.85 L345.76,71.85 L345.89,70.84 L346.02,69.84 L346.14,68.83 L346.27,67.82 L346.40,66.81 L346.53,65.79 L346.66,64.77 L346.80,63.75 L346.93,62.73 L347.06,61.70 L347.20,60.67 L347.34,59.63 L347.48,58.59 L347.62,57.55 L347.76,56.51 L347.90,55.46 L348.05,54.41 L348.19,53.35 L348.34,52.29 L348.49,51.23 L348.64,50.16 L348.80,49.09 L348.95,48.01 L349.11,46.93 L349.27,45.84 L349.43,44.75 L349.59,43.66 L349.76,42.56 L349.92,41.46 L350.10,40.36 L350.28,39.27 L350.47,38.19 L350.67,37.13 L350.89,36.09 L351.12,35.07 L351.37,34.07 L351.63,33.11 L351.92,32.19 L352.22,31.30 L352.55,30.46 L352.91,29.66 L353.29,28.91 L353.70,28.22 L354.14,27.59 L354.62,27.03 L355.12,26.53 L355.64,26.17 L356.14,26.02 L356.60,26.12 L357.02,26.44 L357.42,26.96 L357.78,27.64 L358.12,28.46 L358.44,29.38 L358.75,30.36 L359.03,31.39 L359.31,32.42 L359.58,33.46 L359.84,34.49 L360.08,35.52 L360.33,36.54 L360.56,37.57 L360.78,38.59 L361.00,39.62 L361.21,40.64 L361.41,41.66 L361.60,42.68 L361.78,43.69 L361.96,44.71 L362.14,45.73 L362.30,46.74 L362.46,47.75 L362.62,48.76 L362.76,49.77 L362.91,50.78 L363.04,51.79 L363.18,52.80 L363.30,53.80 L363.43,54.81 L363.55,55.81 L363.66,56.82 L363.77,57.82 L363.88,58.83 L363.98,59.83 L364.08,60.83 L364.18,61.83 L364.27,62.83 L364.36,63.83 L364.45,64.83 L364.54,65.84 L364.63,66.84 L364.71,67.84 L364.79,68.83 L364.87,69.83 L364.96,70.83 L365.04,71.83 L365.11,72.83 L365.19,73.83 L365.27,74.83 L365.35,75.83 L365.43,76.84 L365.51,77.84 L365.59,78.84 L365.68,79.84 L365.76,80.84 L365.85,81.84 L365.93,82.85 L366.02,83.85 L366.11,84.86 L366.20,85.86 L366.30,86.87 L366.39,87.87 L366.49,88.88 L366.59,89.88 L366.69,90.89 L366.79,91.90 L366.89,92.91 L366.99,93.91 L367.10,94.92 L367.20,95.93 L367.31,96.94 L367.42,97.95 L367.52,98.96 L367.63,99.96 L367.74,100.97 L367.85,101.98 L367.97,102.99 L368.08,104.00 L368.19,105.01 L368.30,106.02 L368.42,107.03 L368.53,108.04 L368.65,109.05 L368.77,110.06 L368.88,111.07 L369.00,112.08 L369.12,113.09 L369.23,114.10 L369.35,115.11 L369.47,116.12 L369.59,117.12 L369.70,118.13 L369.82,119.14 L369.94,120.15 L370.06,121.16 L370.18,122.16 L370.29,123.17 L370.41,124.18 L370.53,125.18 L370.64,126.19 L370.76,127.19 L370.88,128.20 L370.99,129.20 L371.11,130.21 L371.22,131.21 L371.34,132.21 L371.45,133.22 L371.56,134.22 L371.68,135.22 L371.79,136.22 L371.90,137.22 L372.01,138.22 L372.12,139.22 L372.23,140.22 L372.33,141.21 L372.44,142.21 L372.54,143.21 L372.65,144.20 L372.75,145.20 L372.85,146.19 L372.95,147.18 L373.05,148.17 L373.15,149.16 L373.25,150.16 L373.35,151.15 L373.45,152.14 L373.54,153.12 L373.64,154.11 L373.74,155.10 L373.84,156.09 L373.94,157.08 L374.04,158.07 L374.14,159.06 L374.25,160.05 L374.35,161.03 L374.46,162.02 L374.56,163.01 L374.67,164.00 L374.79,164.99 L374.90,165.98 L375.02,166.97 L375.14,167.97 L375.26,168.96 L375.38,169.95 L375.51,170.94 L375.64,171.94 L375.78,172.93 L375.92,173.93 L376.06,174.93 L376.21,175.93 L376.36,176.93 L376.51,177.93 L376.67,178.93 L376.84,179.94 L377.01,180.94 L377.18,181.95 L377.36,182.96 L377.55,183.97 L377.74,184.98 L377.94,185.99 L378.14,187.01 L378.35,188.03 L378.56,189.05 L378.78,190.07 L379.01,191.09 L379.25,192.12 L379.49,193.14 L379.74,194.17 L379.99,195.21 L380.26,196.24 L380.53,197.28 L380.81,198.31 L381.11,199.33 L381.43,200.34 L381.76,201.33 L382.12,202.29 L382.49,203.23 L382.90,204.14 L383.34,205.00 L383.80,205.83 L384.30,206.61 L384.84,207.34 L385.42,208.01 L386.04,208.62 L386.70,209.16 L387.41,209.64 L388.17,210.04 L388.99,210.36 L389.86,210.59 L390.78,210.74 L391.74,210.83 L392.75,210.85 L393.79,210.83 L394.86,210.78 L395.94,210.70 L397.03,210.62 L398.13,210.54 L399.23,210.47 L400.31,210.44 L401.38,210.45 L402.42,210.51 L403.43,210.64 L404.40,210.84 L405.34,211.11 L406.26,211.43 L407.17,211.77 L408.08,212.11 L409.00,212.44 L409.93,212.76 L410.86,213.07 L411.80,213.37 L412.75,213.65 L413.70,213.93 L414.66,214.20 L415.63,214.46 L416.60,214.70 L417.58,214.94 L418.56,215.16 L419.54,215.38 L420.53,215.59 L421.52,215.78 L422.52,215.97 L423.52,216.14 L424.52,216.30 L425.53,216.46 L426.53,216.60 L427.54,216.74 L428.55,216.86 L429.56,216.97 L430.57,217.08 L431.58,217.17 L432.59,217.25 L433.60,217.33 L434.61,217.39 L435.62,217.45 L436.63,217.49 L437.64,217.53 L438.65,217.56 L439.66,217.59 L440.67,217.60 L441.68,217.61 L442.69,217.62 L443.70,217.62 L444.71,217.61 L445.72,217.60 L446.73,217.59 L447.74,217.57 L448.75,217.55 L449.75,217.52 L450.76,217.50 L451.77,217.47 L452.78,217.44 L453.79,217.41 L454.80,217.38 L455.80,217.35 L456.81,217.32 L457.82,217.29 L458.83,217.26 L459.84,217.23 L460.85,217.20 L461.85,217.18 L462.86,217.16 L463.87,217.14 L464.88,217.13 L465.89,217.12 L466.90,217.12 L467.91,217.12 L468.91,217.13 L469.92,217.14 L470.93,217.16 L471.94,217.18 L472.95,217.22 L473.96,217.26 L474.97,217.31 L475.98,217.37 L476.99,217.43 L478.00,217.51" fill="none" stroke="#ff1030" stroke-width="1.15" stroke-linejoin="round" stroke-linecap="round" />
<text x="307.3" y="20.0" font-size="10.8" fill="#ff1030" stroke="#ff1030" stroke-width="0.3" textLength="28.5" lengthAdjust="spacingAndGlyphs">PEG-X</text>
<line x1="330.20" y1="25.20" x2="351.30" y2="36.40" stroke="#ff1030" stroke-width="0.9" />
<text x="353.7" y="13.1" font-size="11.2" fill="#ff7f27" stroke="#ff7f27" stroke-width="0.3" textLength="20.2" lengthAdjust="spacingAndGlyphs">32%</text>
<line x1="370.50" y1="16.70" x2="378.30" y2="24.60" stroke="#ff7f27" stroke-width="0.9" />
<text x="386.8" y="9.2" font-size="11.2" fill="#2ec42e" stroke="#2ec42e" stroke-width="0.3" textLength="20.2" lengthAdjust="spacingAndGlyphs">61%</text>
<line x1="400.00" y1="14.60" x2="401.20" y2="24.40" stroke="#2ec42e" stroke-width="0.9" />
<text x="421.2" y="9.8" font-size="11.2" fill="#3c50f5" stroke="#3c50f5" stroke-width="0.2" textLength="20.8" lengthAdjust="spacingAndGlyphs">81%</text>
<line x1="426.30" y1="13.80" x2="421.00" y2="24.40" stroke="#3448f0" stroke-width="0.9" />
<text x="449.0" y="20.3" font-size="11.2" fill="#141414" stroke="#141414" stroke-width="0.3" textLength="21" lengthAdjust="spacingAndGlyphs">93%</text>
<line x1="447.80" y1="19.00" x2="430.30" y2="25.30" stroke="#334" stroke-width="0.9" />
<line x1="559.50" y1="24.20" x2="559.50" y2="218.70" stroke="#5a6161" stroke-width="1.7" />
<line x1="793.20" y1="24.20" x2="793.20" y2="218.70" stroke="#5a6161" stroke-width="1.7" />
<line x1="558.60" y1="217.80" x2="794.10" y2="217.80" stroke="#5a6161" stroke-width="1.7" />
<line x1="555.80" y1="200.90" x2="559.50" y2="200.90" stroke="#4a4f4f" stroke-width="1.4" />
<text x="553.00" y="203.10" font-size="7.1" text-anchor="end" fill="#2e2e2e" font-weight="normal" textLength="13.74" lengthAdjust="spacingAndGlyphs" stroke="#2e2e2e" stroke-width="0.24">2000</text>
<line x1="555.80" y1="168.84" x2="559.50" y2="168.84" stroke="#4a4f4f" stroke-width="1.4" />
<text x="553.00" y="171.04" font-size="7.1" text-anchor="end" fill="#2e2e2e" font-weight="normal" textLength="13.74" lengthAdjust="spacingAndGlyphs" stroke="#2e2e2e" stroke-width="0.24">3000</text>
<line x1="555.80" y1="136.78" x2="559.50" y2="136.78" stroke="#4a4f4f" stroke-width="1.4" />
<text x="553.00" y="138.98" font-size="7.1" text-anchor="end" fill="#2e2e2e" font-weight="normal" textLength="13.74" lengthAdjust="spacingAndGlyphs" stroke="#2e2e2e" stroke-width="0.24">4000</text>
<line x1="555.80" y1="104.72" x2="559.50" y2="104.72" stroke="#4a4f4f" stroke-width="1.4" />
<text x="553.00" y="106.92" font-size="7.1" text-anchor="end" fill="#2e2e2e" font-weight="normal" textLength="13.74" lengthAdjust="spacingAndGlyphs" stroke="#2e2e2e" stroke-width="0.24">5000</text>
<line x1="555.80" y1="72.66" x2="559.50" y2="72.66" stroke="#4a4f4f" stroke-width="1.4" />
<text x="553.00" y="74.86" font-size="7.1" text-anchor="end" fill="#2e2e2e" font-weight="normal" textLength="13.74" lengthAdjust="spacingAndGlyphs" stroke="#2e2e2e" stroke-width="0.24">6000</text>
<line x1="555.80" y1="40.60" x2="559.50" y2="40.60" stroke="#4a4f4f" stroke-width="1.4" />
<text x="553.00" y="42.80" font-size="7.1" text-anchor="end" fill="#2e2e2e" font-weight="normal" textLength="13.74" lengthAdjust="spacingAndGlyphs" stroke="#2e2e2e" stroke-width="0.24">7000</text>
<line x1="557.90" y1="184.87" x2="559.50" y2="184.87" stroke="#4a4f4f" stroke-width="1.2" />
<line x1="557.90" y1="152.81" x2="559.50" y2="152.81" stroke="#4a4f4f" stroke-width="1.2" />
<line x1="557.90" y1="120.75" x2="559.50" y2="120.75" stroke="#4a4f4f" stroke-width="1.2" />
<line x1="557.90" y1="88.69" x2="559.50" y2="88.69" stroke="#4a4f4f" stroke-width="1.2" />
<line x1="557.90" y1="56.63" x2="559.50" y2="56.63" stroke="#4a4f4f" stroke-width="1.2" />
<line x1="557.90" y1="24.57" x2="559.50" y2="24.57" stroke="#4a4f4f" stroke-width="1.2" />
<line x1="789.50" y1="217.60" x2="793.20" y2="217.60" stroke="#4a4f4f" stroke-width="1.4" />
<text x="796.50" y="219.80" font-size="7.1" text-anchor="start" fill="#2e2e2e" font-weight="normal" textLength="8.59" lengthAdjust="spacingAndGlyphs" stroke="#2e2e2e" stroke-width="0.24">1.0</text>
<line x1="789.50" y1="198.26" x2="793.20" y2="198.26" stroke="#4a4f4f" stroke-width="1.4" />
<text x="796.50" y="200.46" font-size="7.1" text-anchor="start" fill="#2e2e2e" font-weight="normal" textLength="8.59" lengthAdjust="spacingAndGlyphs" stroke="#2e2e2e" stroke-width="0.24">1.1</text>
<line x1="789.50" y1="178.92" x2="793.20" y2="178.92" stroke="#4a4f4f" stroke-width="1.4" />
<text x="796.50" y="181.12" font-size="7.1" text-anchor="start" fill="#2e2e2e" font-weight="normal" textLength="8.59" lengthAdjust="spacingAndGlyphs" stroke="#2e2e2e" stroke-width="0.24">1.2</text>
<line x1="789.50" y1="159.58" x2="793.20" y2="159.58" stroke="#4a4f4f" stroke-width="1.4" />
<text x="796.50" y="161.78" font-size="7.1" text-anchor="start" fill="#2e2e2e" font-weight="normal" textLength="8.59" lengthAdjust="spacingAndGlyphs" stroke="#2e2e2e" stroke-width="0.24">1.3</text>
<line x1="789.50" y1="140.24" x2="793.20" y2="140.24" stroke="#4a4f4f" stroke-width="1.4" />
<text x="796.50" y="142.44" font-size="7.1" text-anchor="start" fill="#2e2e2e" font-weight="normal" textLength="8.59" lengthAdjust="spacingAndGlyphs" stroke="#2e2e2e" stroke-width="0.24">1.4</text>
<line x1="789.50" y1="120.90" x2="793.20" y2="120.90" stroke="#4a4f4f" stroke-width="1.4" />
<text x="796.50" y="123.10" font-size="7.1" text-anchor="start" fill="#2e2e2e" font-weight="normal" textLength="8.59" lengthAdjust="spacingAndGlyphs" stroke="#2e2e2e" stroke-width="0.24">1.5</text>
<line x1="789.50" y1="101.56" x2="793.20" y2="101.56" stroke="#4a4f4f" stroke-width="1.4" />
<text x="796.50" y="103.76" font-size="7.1" text-anchor="start" fill="#2e2e2e" font-weight="normal" textLength="8.59" lengthAdjust="spacingAndGlyphs" stroke="#2e2e2e" stroke-width="0.24">1.6</text>
<line x1="789.50" y1="82.22" x2="793.20" y2="82.22" stroke="#4a4f4f" stroke-width="1.4" />
<text x="796.50" y="84.42" font-size="7.1" text-anchor="start" fill="#2e2e2e" font-weight="normal" textLength="8.59" lengthAdjust="spacingAndGlyphs" stroke="#2e2e2e" stroke-width="0.24">1.7</text>
<line x1="789.50" y1="62.88" x2="793.20" y2="62.88" stroke="#4a4f4f" stroke-width="1.4" />
<text x="796.50" y="65.08" font-size="7.1" text-anchor="start" fill="#2e2e2e" font-weight="normal" textLength="8.59" lengthAdjust="spacingAndGlyphs" stroke="#2e2e2e" stroke-width="0.24">1.8</text>
<line x1="789.50" y1="43.54" x2="793.20" y2="43.54" stroke="#4a4f4f" stroke-width="1.4" />
<text x="796.50" y="45.74" font-size="7.1" text-anchor="start" fill="#2e2e2e" font-weight="normal" textLength="8.59" lengthAdjust="spacingAndGlyphs" stroke="#2e2e2e" stroke-width="0.24">1.9</text>
<line x1="789.50" y1="24.20" x2="793.20" y2="24.20" stroke="#4a4f4f" stroke-width="1.4" />
<text x="796.50" y="26.40" font-size="7.1" text-anchor="start" fill="#2e2e2e" font-weight="normal" textLength="8.59" lengthAdjust="spacingAndGlyphs" stroke="#2e2e2e" stroke-width="0.24">2.0</text>
<line x1="791.60" y1="207.93" x2="793.20" y2="207.93" stroke="#4a4f4f" stroke-width="1.2" />
<line x1="791.60" y1="188.59" x2="793.20" y2="188.59" stroke="#4a4f4f" stroke-width="1.2" />
<line x1="791.60" y1="169.25" x2="793.20" y2="169.25" stroke="#4a4f4f" stroke-width="1.2" />
<line x1="791.60" y1="149.91" x2="793.20" y2="149.91" stroke="#4a4f4f" stroke-width="1.2" />
<line x1="791.60" y1="130.57" x2="793.20" y2="130.57" stroke="#4a4f4f" stroke-width="1.2" />
<line x1="791.60" y1="111.23" x2="793.20" y2="111.23" stroke="#4a4f4f" stroke-width="1.2" />
<line x1="791.60" y1="91.89" x2="793.20" y2="91.89" stroke="#4a4f4f" stroke-width="1.2" />
<line x1="791.60" y1="72.55" x2="793.20" y2="72.55" stroke="#4a4f4f" stroke-width="1.2" />
<line x1="791.60" y1="53.21" x2="793.20" y2="53.21" stroke="#4a4f4f" stroke-width="1.2" />
<line x1="791.60" y1="33.87" x2="793.20" y2="33.87" stroke="#4a4f4f" stroke-width="1.2" />
<line x1="559.50" y1="217.80" x2="559.50" y2="221.50" stroke="#4a4f4f" stroke-width="1.4" />
<text x="559.50" y="228.40" font-size="7.1" text-anchor="middle" fill="#2e2e2e" font-weight="normal" textLength="3.43" lengthAdjust="spacingAndGlyphs" stroke="#2e2e2e" stroke-width="0.24">0</text>
<line x1="582.87" y1="217.80" x2="582.87" y2="221.50" stroke="#4a4f4f" stroke-width="1.4" />
<text x="582.87" y="228.40" font-size="7.1" text-anchor="middle" fill="#2e2e2e" font-weight="normal" textLength="6.87" lengthAdjust="spacingAndGlyphs" stroke="#2e2e2e" stroke-width="0.24">10</text>
<line x1="606.24" y1="217.80" x2="606.24" y2="221.50" stroke="#4a4f4f" stroke-width="1.4" />
<text x="606.24" y="228.40" font-size="7.1" text-anchor="middle" fill="#2e2e2e" font-weight="normal" textLength="6.87" lengthAdjust="spacingAndGlyphs" stroke="#2e2e2e" stroke-width="0.24">20</text>
<line x1="629.61" y1="217.80" x2="629.61" y2="221.50" stroke="#4a4f4f" stroke-width="1.4" />
<text x="629.61" y="228.40" font-size="7.1" text-anchor="middle" fill="#2e2e2e" font-weight="normal" textLength="6.87" lengthAdjust="spacingAndGlyphs" stroke="#2e2e2e" stroke-width="0.24">30</text>
<line x1="652.98" y1="217.80" x2="652.98" y2="221.50" stroke="#4a4f4f" stroke-width="1.4" />
<text x="652.98" y="228.40" font-size="7.1" text-anchor="middle" fill="#2e2e2e" font-weight="normal" textLength="6.87" lengthAdjust="spacingAndGlyphs" stroke="#2e2e2e" stroke-width="0.24">40</text>
<line x1="676.35" y1="217.80" x2="676.35" y2="221.50" stroke="#4a4f4f" stroke-width="1.4" />
<text x="676.35" y="228.40" font-size="7.1" text-anchor="middle" fill="#2e2e2e" font-weight="normal" textLength="6.87" lengthAdjust="spacingAndGlyphs" stroke="#2e2e2e" stroke-width="0.24">50</text>
<line x1="699.72" y1="217.80" x2="699.72" y2="221.50" stroke="#4a4f4f" stroke-width="1.4" />
<text x="699.72" y="228.40" font-size="7.1" text-anchor="middle" fill="#2e2e2e" font-weight="normal" textLength="6.87" lengthAdjust="spacingAndGlyphs" stroke="#2e2e2e" stroke-width="0.24">60</text>
<line x1="723.09" y1="217.80" x2="723.09" y2="221.50" stroke="#4a4f4f" stroke-width="1.4" />
<text x="723.09" y="228.40" font-size="7.1" text-anchor="middle" fill="#2e2e2e" font-weight="normal" textLength="6.87" lengthAdjust="spacingAndGlyphs" stroke="#2e2e2e" stroke-width="0.24">70</text>
<line x1="746.46" y1="217.80" x2="746.46" y2="221.50" stroke="#4a4f4f" stroke-width="1.4" />
<text x="746.46" y="228.40" font-size="7.1" text-anchor="middle" fill="#2e2e2e" font-weight="normal" textLength="6.87" lengthAdjust="spacingAndGlyphs" stroke="#2e2e2e" stroke-width="0.24">80</text>
<line x1="769.83" y1="217.80" x2="769.83" y2="221.50" stroke="#4a4f4f" stroke-width="1.4" />
<text x="769.83" y="228.40" font-size="7.1" text-anchor="middle" fill="#2e2e2e" font-weight="normal" textLength="6.87" lengthAdjust="spacingAndGlyphs" stroke="#2e2e2e" stroke-width="0.24">90</text>
<line x1="793.20" y1="217.80" x2="793.20" y2="221.50" stroke="#4a4f4f" stroke-width="1.4" />
<text x="793.20" y="228.40" font-size="7.1" text-anchor="middle" fill="#2e2e2e" font-weight="normal" textLength="10.3" lengthAdjust="spacingAndGlyphs" stroke="#2e2e2e" stroke-width="0.24">100</text>
<line x1="571.18" y1="217.80" x2="571.18" y2="219.40" stroke="#4a4f4f" stroke-width="1.2" />
<line x1="594.56" y1="217.80" x2="594.56" y2="219.40" stroke="#4a4f4f" stroke-width="1.2" />
<line x1="617.93" y1="217.80" x2="617.93" y2="219.40" stroke="#4a4f4f" stroke-width="1.2" />
<line x1="641.30" y1="217.80" x2="641.30" y2="219.40" stroke="#4a4f4f" stroke-width="1.2" />
<line x1="664.67" y1="217.80" x2="664.67" y2="219.40" stroke="#4a4f4f" stroke-width="1.2" />
<line x1="688.04" y1="217.80" x2="688.04" y2="219.40" stroke="#4a4f4f" stroke-width="1.2" />
<line x1="711.40" y1="217.80" x2="711.40" y2="219.40" stroke="#4a4f4f" stroke-width="1.2" />
<line x1="734.78" y1="217.80" x2="734.78" y2="219.40" stroke="#4a4f4f" stroke-width="1.2" />
<line x1="758.15" y1="217.80" x2="758.15" y2="219.40" stroke="#4a4f4f" stroke-width="1.2" />
<line x1="781.52" y1="217.80" x2="781.52" y2="219.40" stroke="#4a4f4f" stroke-width="1.2" />
<text x="676" y="242.8" font-size="7.5" text-anchor="middle" fill="#1e1e1e" stroke="#1e1e1e" stroke-width="0.32" font-weight="bold" textLength="53.7" lengthAdjust="spacing">Conversion (%)</text>
<text transform="translate(534.0,120.6) rotate(-90)" font-size="7.5" text-anchor="middle" fill="#1e1e1e" stroke="#1e1e1e" stroke-width="0.32" font-weight="bold" textLength="39" lengthAdjust="spacing"><tspan font-style="italic">M</tspan><tspan font-size="5" dy="1.6">n</tspan><tspan dy="-1.6"> (g mol</tspan><tspan font-size="5" dy="-2.8">-1</tspan><tspan dy="2.8">)</tspan></text>
<text transform="translate(815.6,120.9) rotate(-90)" font-size="8.2" text-anchor="middle" fill="#1e1e1e" stroke="#1e1e1e" stroke-width="0.5" font-weight="bold" font-style="italic" textLength="4.8" lengthAdjust="spacingAndGlyphs">&#272;</text>
<text x="521.0" y="18.0" font-size="11.4" font-weight="bold" fill="#000" stroke="#000" stroke-width="0.45" textLength="4.8" lengthAdjust="spacingAndGlyphs">c</text>
<line x1="559.3" y1="191.3" x2="790.0" y2="51.3" stroke="#1b2b27" stroke-width="1.5" stroke-dasharray="6.3 5.98" stroke-dashoffset="5.24"/>
<line x1="559.8" y1="191.0" x2="563.0" y2="189.1" stroke="#1b2b27" stroke-width="1.5"/>
<rect x="630.55" y="146.70" width="4.1" height="4.2" fill="#ff0d0d"/>
<rect x="700.70" y="121.00" width="4.1" height="4.2" fill="#ff0d0d"/>
<rect x="746.35" y="97.40" width="4.1" height="4.2" fill="#ff0d0d"/>
<rect x="773.75" y="88.00" width="4.1" height="4.2" fill="#ff0d0d"/>
<rect x="630.95" y="168.95" width="3.1" height="3.5" fill="none" stroke="#ff1a1a" stroke-width="1.05"/>
<rect x="701.30" y="159.55" width="3.1" height="3.5" fill="none" stroke="#ff1a1a" stroke-width="1.05"/>
<rect x="746.85" y="141.55" width="3.1" height="3.5" fill="none" stroke="#ff1a1a" stroke-width="1.05"/>
<rect x="774.25" y="111.25" width="3.1" height="3.5" fill="none" stroke="#ff1a1a" stroke-width="1.05"/>
</svg>
</body></html>
